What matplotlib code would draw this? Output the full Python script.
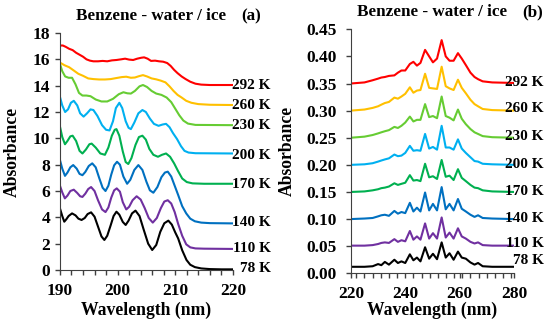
import matplotlib
matplotlib.use('Agg')
import matplotlib.pyplot as plt
import matplotlib.ticker as ticker

plt.rcParams['font.family'] = ['Liberation Serif', 'DejaVu Serif']
plt.rcParams['font.weight'] = 'bold'

# ---- panel (a): 190-220 nm, offset spectra ----
wl_78 = [190.0, 190.4, 190.75, 191.1, 191.5, 192.1, 192.7, 193.2, 193.75, 194.3, 194.8, 195.4, 196.0, 196.6,
         197.2, 197.7, 198.2, 198.8, 199.3, 199.8, 200.3, 200.9, 201.4, 201.9, 202.5, 203.1, 203.8, 204.5,
         205.3, 206.0, 206.7, 207.4, 208.1, 208.8, 209.4, 210.0, 210.5, 211.2, 211.95, 212.6, 213.4, 214.5,
         216, 218, 220]
abs_78 = [4.68, 4.1, 3.67, 3.85, 4.1, 4.30, 4.15, 3.9, 3.80, 3.95, 4.25, 4.38, 4.05, 3.3,
          2.55, 2.28, 2.6, 3.4, 4.1, 4.43, 4.2, 3.65, 3.42, 3.75, 4.3, 4.51, 4.1, 3.1,
          2.0, 1.52, 1.9, 2.9, 3.55, 3.75, 3.45, 2.85, 2.4, 1.5, 0.76, 0.4, 0.22, 0.12,
          0.07, 0.05, 0.05]

wl_110 = [190.0, 190.4, 190.85, 191.3, 191.8, 192.4, 193.0, 193.5, 193.9, 194.4, 194.9, 195.4, 196.0, 196.6,
          197.3, 197.9, 198.4, 198.9, 199.4, 199.85, 200.4, 200.9, 201.5, 202.0, 202.6, 203.3, 204.0, 204.7,
          205.4, 206.1, 206.8, 207.5, 208.1, 208.7, 209.3, 209.9, 210.5, 211.2, 211.9, 212.6, 213.5, 215, 220]
abs_110 = [6.4, 5.9, 5.44, 5.65, 6.0, 6.1, 5.85, 5.6, 5.55, 5.8, 6.15, 6.3, 6.0, 5.3,
           4.6, 4.4, 4.75, 5.5, 6.05, 6.2, 5.95, 5.15, 4.6, 4.8, 5.3, 5.6, 5.35, 4.7,
           3.95, 3.6, 3.95, 4.7, 5.2, 5.3, 5.05, 4.4, 3.5, 2.6, 1.95, 1.72, 1.64, 1.62, 1.6]

wl_140 = [190.0, 190.4, 190.87, 191.3, 191.8, 192.3, 192.9, 193.4, 193.9, 194.4, 195.0, 195.6, 196.2, 196.8,
          197.4, 197.9, 198.4, 198.9, 199.4, 199.9, 200.4, 201.0, 201.65, 202.2, 202.9, 203.6, 204.3, 205.0,
          205.6, 206.2, 206.9, 207.6, 208.2, 208.7, 209.3, 209.9, 210.5, 211.2, 211.9, 212.6, 213.4, 214.5,
          216, 220]
abs_140 = [8.35, 7.7, 7.15, 7.4, 7.8, 7.97, 7.7, 7.3, 7.2, 7.45, 7.9, 8.1, 7.8, 7.0,
           6.25, 6.0, 6.4, 7.25, 7.95, 8.22, 8.0, 7.1, 6.55, 6.85, 7.6, 7.97, 7.6, 6.7,
           6.05, 5.87, 6.3, 7.05, 7.4, 7.47, 7.1, 6.4, 5.7, 4.85, 4.3, 3.9, 3.7, 3.6,
           3.56, 3.54]

wl_170 = [190.0, 190.4, 190.87, 191.3, 191.8, 192.2, 192.8, 193.4, 193.9, 194.5, 195.1, 195.5, 196.2, 197.0,
          197.8, 198.4, 199.0, 199.5, 199.8, 200.3, 200.9, 201.4, 201.85, 202.4, 203.1, 203.7, 204.3, 204.9,
          205.5, 206.2, 207.0, 207.7, 208.4, 209.1, 209.8, 210.5, 211.2, 212.0, 213.0, 215, 220]
abs_170 = [10.9, 10.1, 9.55, 9.8, 10.15, 10.2, 9.8, 9.05, 8.85, 9.15, 9.55, 9.6, 9.3, 8.85,
           8.75, 9.3, 10.2, 10.65, 10.7, 10.2, 9.0, 8.2, 8.05, 8.5, 9.5, 10.1, 10.2, 9.9,
           9.2, 8.75, 8.6, 8.75, 8.85, 8.6, 8.1, 7.5, 6.95, 6.68, 6.58, 6.55, 6.55]

wl_200 = [190.0, 190.4, 190.9, 191.4, 191.9, 192.4, 193.0, 193.5, 194.1, 194.7, 195.3, 195.8, 196.5, 197.3,
          198.0, 198.6, 199.2, 199.7, 200.3, 200.8, 201.4, 201.9, 202.3, 202.9, 203.6, 204.3, 204.9, 205.6,
          206.3, 207.1, 207.8, 208.4, 209.0, 209.6, 210.3, 211.0, 211.6, 212.3, 213.5, 220]
abs_200 = [13.15, 12.5, 12.0, 12.2, 12.7, 12.85, 12.5, 11.9, 11.65, 11.9, 12.2, 12.15, 11.7, 11.0,
           10.65, 10.6, 11.3, 12.3, 12.7, 12.3, 11.3, 10.8, 10.7, 11.2, 11.9, 12.15, 12.0, 11.5,
           11.1, 10.95, 11.05, 11.1, 10.85, 10.4, 9.95, 9.4, 9.05, 8.92, 8.87, 8.85]

wl_230 = [190.0, 190.4, 190.9, 191.5, 192.1, 192.7, 193.3, 193.9, 194.6, 195.3, 196.2, 197.2, 198.2, 199.2,
          200.2, 201.0, 201.7, 202.3, 203.0, 203.8, 204.4, 205.1, 205.9, 206.7, 207.6, 208.5, 209.3, 210.0,
          210.7, 211.4, 212.2, 213.5, 220]
abs_230 = [15.65, 15.1, 14.7, 14.6, 14.6, 14.1, 13.45, 13.25, 13.25, 13.2, 12.95, 12.8, 12.8, 13.0,
           13.35, 13.5, 13.42, 13.4, 13.6, 13.95, 14.05, 13.9, 13.6, 13.4, 13.3, 13.1, 12.75, 12.25,
           11.75, 11.35, 11.12, 11.02, 11.0]

wl_260 = [190.0, 190.8, 191.6, 192.4, 193.2, 194.0, 194.9, 195.8, 196.8, 197.8, 198.8, 199.8, 200.7, 201.5,
          202.3, 203.0, 203.7, 204.4, 205.1, 205.9, 206.7, 207.5, 208.3, 209.0, 209.7, 210.4, 211.1, 211.9,
          212.8, 214.0, 216.0, 220]
abs_260 = [15.75, 15.55, 15.4, 15.15, 14.9, 14.75, 14.55, 14.5, 14.47, 14.47, 14.5, 14.58, 14.65, 14.68,
           14.6, 14.62, 14.72, 14.8, 14.7, 14.55, 14.48, 14.38, 14.25, 13.95, 13.6, 13.3, 13.1, 12.85,
           12.7, 12.6, 12.55, 12.53]

wl_292 = [190.0, 190.5, 191.0, 191.6, 192.2, 192.8, 193.4, 194.0, 194.6, 195.2, 195.8, 196.6, 197.4, 198.2,
          199.0, 199.8, 200.6, 201.3, 202.0, 202.7, 203.4, 204.1, 204.6, 205.2, 205.8, 206.5, 207.2, 207.9,
          208.6, 209.2, 209.8, 210.4, 211.1, 211.8, 212.6, 213.5, 214.5, 216.0, 220]
abs_292 = [17.05, 17.05, 16.95, 16.8, 16.7, 16.5, 16.35, 16.2, 16.0, 15.9, 15.85, 15.85, 15.88, 15.85,
           15.92, 15.95, 16.0, 16.05, 15.98, 15.95, 16.05, 16.12, 16.15, 16.05, 15.88, 15.9, 15.85, 15.82,
           15.72, 15.5, 15.2, 14.95, 14.7, 14.5, 14.3, 14.15, 14.08, 14.05, 14.05]

# ---- panel (b): 220-280 nm, shared wavelength grid ----
wl_b = [220, 225, 228, 230, 231.2, 232.5, 234, 236, 237.3, 238.6, 240, 241.7, 243, 244.3, 245.6, 247.3,
        248.8, 250.2, 251.7, 253.4, 254.9, 256.3, 257.8, 259.4, 260.8, 262.3, 264, 265.5, 266.8, 268.5,
        272, 280]
b_78 = [0.012, 0.012, 0.013, 0.017, 0.015, 0.021, 0.016, 0.025, 0.019, 0.022, 0.019, 0.035, 0.024, 0.029,
        0.022, 0.048, 0.027, 0.036, 0.026, 0.057, 0.029, 0.037, 0.025, 0.040, 0.029, 0.027, 0.020, 0.016,
        0.019, 0.013, 0.012, 0.012]
b_110 = [0.051, 0.051, 0.052, 0.054, 0.056, 0.057, 0.056, 0.063, 0.058, 0.061, 0.059, 0.078, 0.062, 0.068,
         0.062, 0.092, 0.064, 0.074, 0.064, 0.103, 0.066, 0.075, 0.064, 0.083, 0.068, 0.064, 0.058, 0.055,
         0.057, 0.052, 0.051, 0.051]
b_140 = [0.100, 0.101, 0.102, 0.105, 0.107, 0.108, 0.106, 0.115, 0.110, 0.113, 0.111, 0.130, 0.114, 0.121,
         0.114, 0.149, 0.116, 0.128, 0.116, 0.159, 0.118, 0.128, 0.116, 0.137, 0.119, 0.114, 0.108, 0.104,
         0.107, 0.102, 0.101, 0.100]
b_170 = [0.150, 0.151, 0.153, 0.155, 0.157, 0.158, 0.160, 0.166, 0.163, 0.165, 0.167, 0.181, 0.171, 0.172,
         0.170, 0.202, 0.177, 0.179, 0.174, 0.209, 0.178, 0.180, 0.172, 0.192, 0.176, 0.170, 0.163, 0.158,
         0.157, 0.153, 0.151, 0.150]
b_200 = [0.200, 0.201, 0.203, 0.206, 0.208, 0.210, 0.212, 0.219, 0.216, 0.217, 0.222, 0.235, 0.226, 0.227,
         0.226, 0.257, 0.230, 0.233, 0.228, 0.272, 0.232, 0.232, 0.228, 0.247, 0.230, 0.222, 0.214, 0.207,
         0.206, 0.202, 0.201, 0.200]
b_230 = [0.250, 0.252, 0.255, 0.258, 0.260, 0.262, 0.264, 0.270, 0.268, 0.272, 0.278, 0.289, 0.280, 0.283,
         0.283, 0.312, 0.288, 0.290, 0.286, 0.326, 0.290, 0.287, 0.282, 0.302, 0.285, 0.275, 0.266, 0.260,
         0.257, 0.253, 0.251, 0.250]
b_260 = [0.300, 0.302, 0.305, 0.308, 0.311, 0.314, 0.316, 0.324, 0.322, 0.326, 0.331, 0.343, 0.333, 0.337,
         0.338, 0.368, 0.342, 0.341, 0.340, 0.381, 0.345, 0.341, 0.338, 0.357, 0.342, 0.332, 0.320, 0.312,
         0.308, 0.303, 0.301, 0.300]
b_292 = [0.350, 0.352, 0.356, 0.359, 0.361, 0.362, 0.364, 0.365, 0.370, 0.374, 0.374, 0.386, 0.390, 0.383,
         0.388, 0.412, 0.400, 0.389, 0.396, 0.430, 0.400, 0.392, 0.392, 0.406, 0.396, 0.384, 0.370, 0.362,
         0.358, 0.354, 0.352, 0.351]

temps = ['78 K', '110 K', '140 K', '170 K', '200 K', '230 K', '260 K', '292 K']
colors = ['#000000', '#7030A0', '#0070C0', '#00B050', '#00B0F0', '#66CC33', '#FFC000', '#FF0000']
label_y_a = [0.15, 1.67, 3.6, 6.53, 8.73, 11.0, 12.53, 14.05]
label_y_b = [0.0245, 0.055, 0.101, 0.150, 0.200, 0.252, 0.304, 0.351]

curves_a = [(wl_78, abs_78), (wl_110, abs_110), (wl_140, abs_140), (wl_170, abs_170),
            (wl_200, abs_200), (wl_230, abs_230), (wl_260, abs_260), (wl_292, abs_292)]
curves_b = [b_78, b_110, b_140, b_170, b_200, b_230, b_260, b_292]

fig = plt.figure(figsize=(5.5, 3.29), dpi=100)
ax1 = fig.add_axes([0.109, 0.1793, 0.3145, 0.7204])
ax2 = fig.add_axes([0.638, 0.1693, 0.2964, 0.7417])

for (x, y), c in zip(curves_a, colors):
    ax1.plot(x, y, color=c, lw=1.5, solid_joinstyle='round')
for y, c in zip(curves_b, colors):
    ax2.plot(wl_b, y, color=c, lw=1.5, solid_joinstyle='round')

for t, yy in zip(temps, label_y_a):
    ax1.text(226.6, yy, t, ha='right', va='center', fontsize=11, fontweight='bold', clip_on=False)
for t, yy in zip(temps, label_y_b):
    ax2.text(291.0, yy, t, ha='right', va='center', fontsize=11, fontweight='bold', clip_on=False)

ax1.set_xlim(190, 220)
ax1.set_ylim(0, 18)
ax1.xaxis.set_major_locator(ticker.MultipleLocator(10))
ax1.xaxis.set_minor_locator(ticker.MultipleLocator(2))
ax1.yaxis.set_major_locator(ticker.MultipleLocator(2))

ax2.set_xlim(220, 280)
ax2.set_ylim(0, 0.45)
ax2.xaxis.set_major_locator(ticker.MultipleLocator(20))
ax2.xaxis.set_minor_locator(ticker.MultipleLocator(3))
ax2.yaxis.set_major_locator(ticker.MultipleLocator(0.05))
ax2.yaxis.set_major_formatter(ticker.FormatStrFormatter('%.2f'))

for ax, ypad in ((ax1, 3.5), (ax2, 6.5)):
    ax.spines['top'].set_visible(False)
    ax.spines['right'].set_visible(False)
    ax.spines['left'].set_color('#404040')
    ax.spines['bottom'].set_color('#404040')
    ax.tick_params(axis='x', which='both', direction='out', length=3.5, width=1, color='#404040', pad=6,
                   labelsize=12.5)
    ax.tick_params(axis='y', which='both', direction='out', length=3.5, width=1, color='#404040', pad=ypad,
                   labelsize=12.5)
    for lab in ax.get_xticklabels() + ax.get_yticklabels():
        lab.set_fontweight('bold')
    ax.set_xlabel('Wavelength (nm)', fontsize=12.7, fontweight='bold')
    ax.set_ylabel('Absorbance', fontsize=12.7, fontweight='bold')

ax1.yaxis.set_label_coords(-0.225, 0.5)
ax2.yaxis.set_label_coords(-0.335, 0.5)
ax1.xaxis.set_label_coords(0.5, -0.135)
ax2.xaxis.set_label_coords(0.5, -0.118)

# titles: main text and panel tag placed separately
fig.text(76 / 550, 1 - 16 / 329, 'Benzene - water / ice', ha='left', va='center',
         fontsize=12.3, fontweight='bold')
fig.text(241 / 550, 1 - 16 / 329, '(a)', ha='left', va='center', fontsize=12.3, fontweight='bold')
fig.text(357 / 550, 1 - 12.5 / 329, 'Benzene - water / ice', ha='left', va='center',
         fontsize=12.3, fontweight='bold')
fig.text(522 / 550, 1 - 12.5 / 329, '(b)', ha='left', va='center', fontsize=12.3, fontweight='bold')

fig.savefig('out.png', dpi=100)
